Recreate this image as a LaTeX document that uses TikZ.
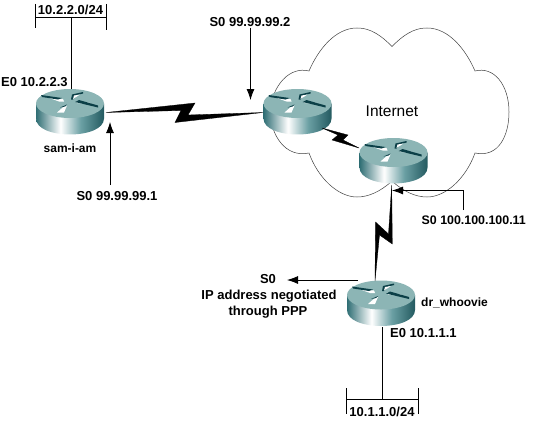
\documentclass[tikz,border=0pt]{standalone}
\usepackage{fontspec}
\setmainfont{Liberation Sans}
\usepackage{tikz}
\usetikzlibrary{arrows.meta}
\definecolor{RTop}{HTML}{8CB5B5}
\definecolor{RDark}{HTML}{2F6E74}
\definecolor{RMid}{HTML}{6A9FA3}
\definecolor{REdge}{HTML}{235A60}
\definecolor{RMark}{HTML}{0B3F47}
\pgfdeclarehorizontalshading{routerside}{100bp}{color(0bp)=(RDark); color(25bp)=(RDark); color(43bp)=(white); color(58bp)=(RMid); color(75bp)=(REdge); color(100bp)=(REdge)}
\tikzset{
  lbl/.style={font=\fontsize{13}{15}\selectfont\bfseries,inner sep=0pt},
  lblsm/.style={font=\fontsize{12}{14}\selectfont\bfseries,inner sep=0pt},
  wire/.style={draw=black,line width=0.8pt},
  ptr/.style={wire,-{Latex[length=11pt,width=8pt]}},
  bolt/.style={fill=black,draw=black,line width=0.3pt,line join=miter},
  router/.pic={
    \shade[shading=routerside] (-34,0) -- (-34,15) .. controls (-34,36.3) and (34,36.3) .. (34,15) -- (34,0) -- cycle;
    \fill[RTop] (0,0) ellipse[x radius=34,y radius=14.5];
    % four arrows on the lid
    \fill[white] (-22,-6) -- (-7,-4.5) -- (-6,-2) -- (-11,-2) -- cycle;
    \fill[RMark] (-29,-8.5) -- (-8,-5.5) -- (-12,-4) -- (-28,-6.5) -- cycle;
    \fill[white] (-13,9) -- (-5,2) -- (-3,2) -- (-6,9) -- cycle;
    \fill[RMark] (-3,1) -- (-5,3) -- (-10,4) -- cycle;
    \fill[RMark] (2,-9) -- (13,-11.5) -- (13,-10) -- (7,-8.5) -- (3,-4) -- (1,-4) -- cycle;
    \fill[white] (4,-8) -- (10,-9) -- (3,-4.5) -- cycle;
    \fill[white] (6,-2.5) -- (20,-0.5) -- (21,1) -- (7,-0.5) -- cycle;
    \fill[RMark] (5,-1.5) -- (9,-3.5) -- (28,2) -- (28,4) -- cycle;
  }
}
\begin{document}
\begin{tikzpicture}[x=1pt,y=-1pt]
\path[use as bounding box] (0,0) rectangle (534,420);
% cloud
\draw[black!75,line width=0.5pt,fill=white] (392,46.5)
  .. controls (376,30) and (365,28) .. (357,28)
  .. controls (335,28) and (318,50) .. (309,71)
  .. controls (290,66) and (272,85) .. (270,112)
  .. controls (271,135) and (285,158) .. (309,153)
  .. controls (318,178) and (338,197) .. (357,197)
  .. controls (368,197) and (380,192) .. (392,181)
  .. controls (404,192) and (416,197) .. (427,197)
  .. controls (446,197) and (466,178) .. (475,153)
  .. controls (499,158) and (509,135) .. (509,112)
  .. controls (509,85) and (494,66) .. (475,71)
  .. controls (466,50) and (449,28) .. (427,28)
  .. controls (419,28) and (408,30) .. (392,46.5) -- cycle;
\node (inet) at (392,111) {\fontsize{15.5}{17}\selectfont Internet};
% routers
\pic at (70,103.5) {router};
\pic at (297.5,103.5) {router};
\pic at (393.5,152.5) {router};
\pic at (381,295) {router};
\coordinate (samtop) at (71,89);
\coordinate (dr) at (382,327);
% serial links
\fill[bolt] (106,112.5) -- (195,103) -- (188,115) -- (263,112.5) -- (175,122.5) -- (181,110.5) -- cycle;
\fill[bolt] (322,128) -- (348,135) -- (343,140) -- (359,148) -- (332,140) -- (338,135) -- cycle;
\fill[bolt] (391.7,185) -- (392.3,244) -- (379.5,235) -- (375,281) -- (375.5,222) -- (388.5,234) -- cycle;
% lan at sam-i-am
\coordinate (lanA) at (71,17);
\draw[wire] (35,4) -- (35,28);
\draw[wire] (106,4) -- (106,30);
\draw[wire] (35,17) -- (106,17);
\draw[wire] (lanA) -- (samtop);
\node[lbl] (lanAtxt) at (70.5,10) {10.2.2.0/24};
\node[lbl,anchor=west] (samE) at (1,82) {E0 10.2.2.3};
\node[lblsm] (samname) at (70,148) {sam-i-am};
\node[lbl] (samS) at (117,196) {S0 99.99.99.1};
\coordinate (samSa) at (110,185);
\coordinate (samSb) at (110,122);
\draw[ptr] (samSa) -- (samSb);
\node[lbl] (inS) at (250,22) {S0 99.99.99.2};
\coordinate (inSa) at (250.5,28);
\coordinate (inSb) at (250.5,100);
\draw[ptr] (inSa) -- (inSb);
% isp side
\node[lblsm,anchor=west] (ispS) at (421.5,220) {\fontsize{12.4}{14}\selectfont S0 100.100.100.11};
\coordinate (ispa) at (463,210);
\coordinate (ispb) at (463,190.5);
\coordinate (ispc) at (392,190.5);
\draw[ptr] (ispa) -- (ispb) -- (ispc);
% dr_whoovie
\node[lbl] (drS) at (268,279.5) {S0};
\coordinate (drSa) at (358,280);
\coordinate (drSb) at (287,280);
\draw[ptr] (drSa) -- (drSb);
\node[lbl] (drip1) at (269,296) {IP address negotiated};
\node[lbl] (drip2) at (268,312) {through PPP};
\node[lblsm,anchor=west] (drname) at (421,303) {dr\_whoovie};
\node[lbl,anchor=west] (drE) at (390,333) {E0 10.1.1.1};
\coordinate (lanB) at (382,399);
\draw[wire] (dr) -- (lanB);
\draw[wire] (346.5,388) -- (346.5,414);
\draw[wire] (418,388) -- (418,414);
\draw[wire] (346.5,399) -- (418,399);
\node[lbl] (lanBtxt) at (382,412) {10.1.1.0/24};
\end{tikzpicture}
\end{document}
